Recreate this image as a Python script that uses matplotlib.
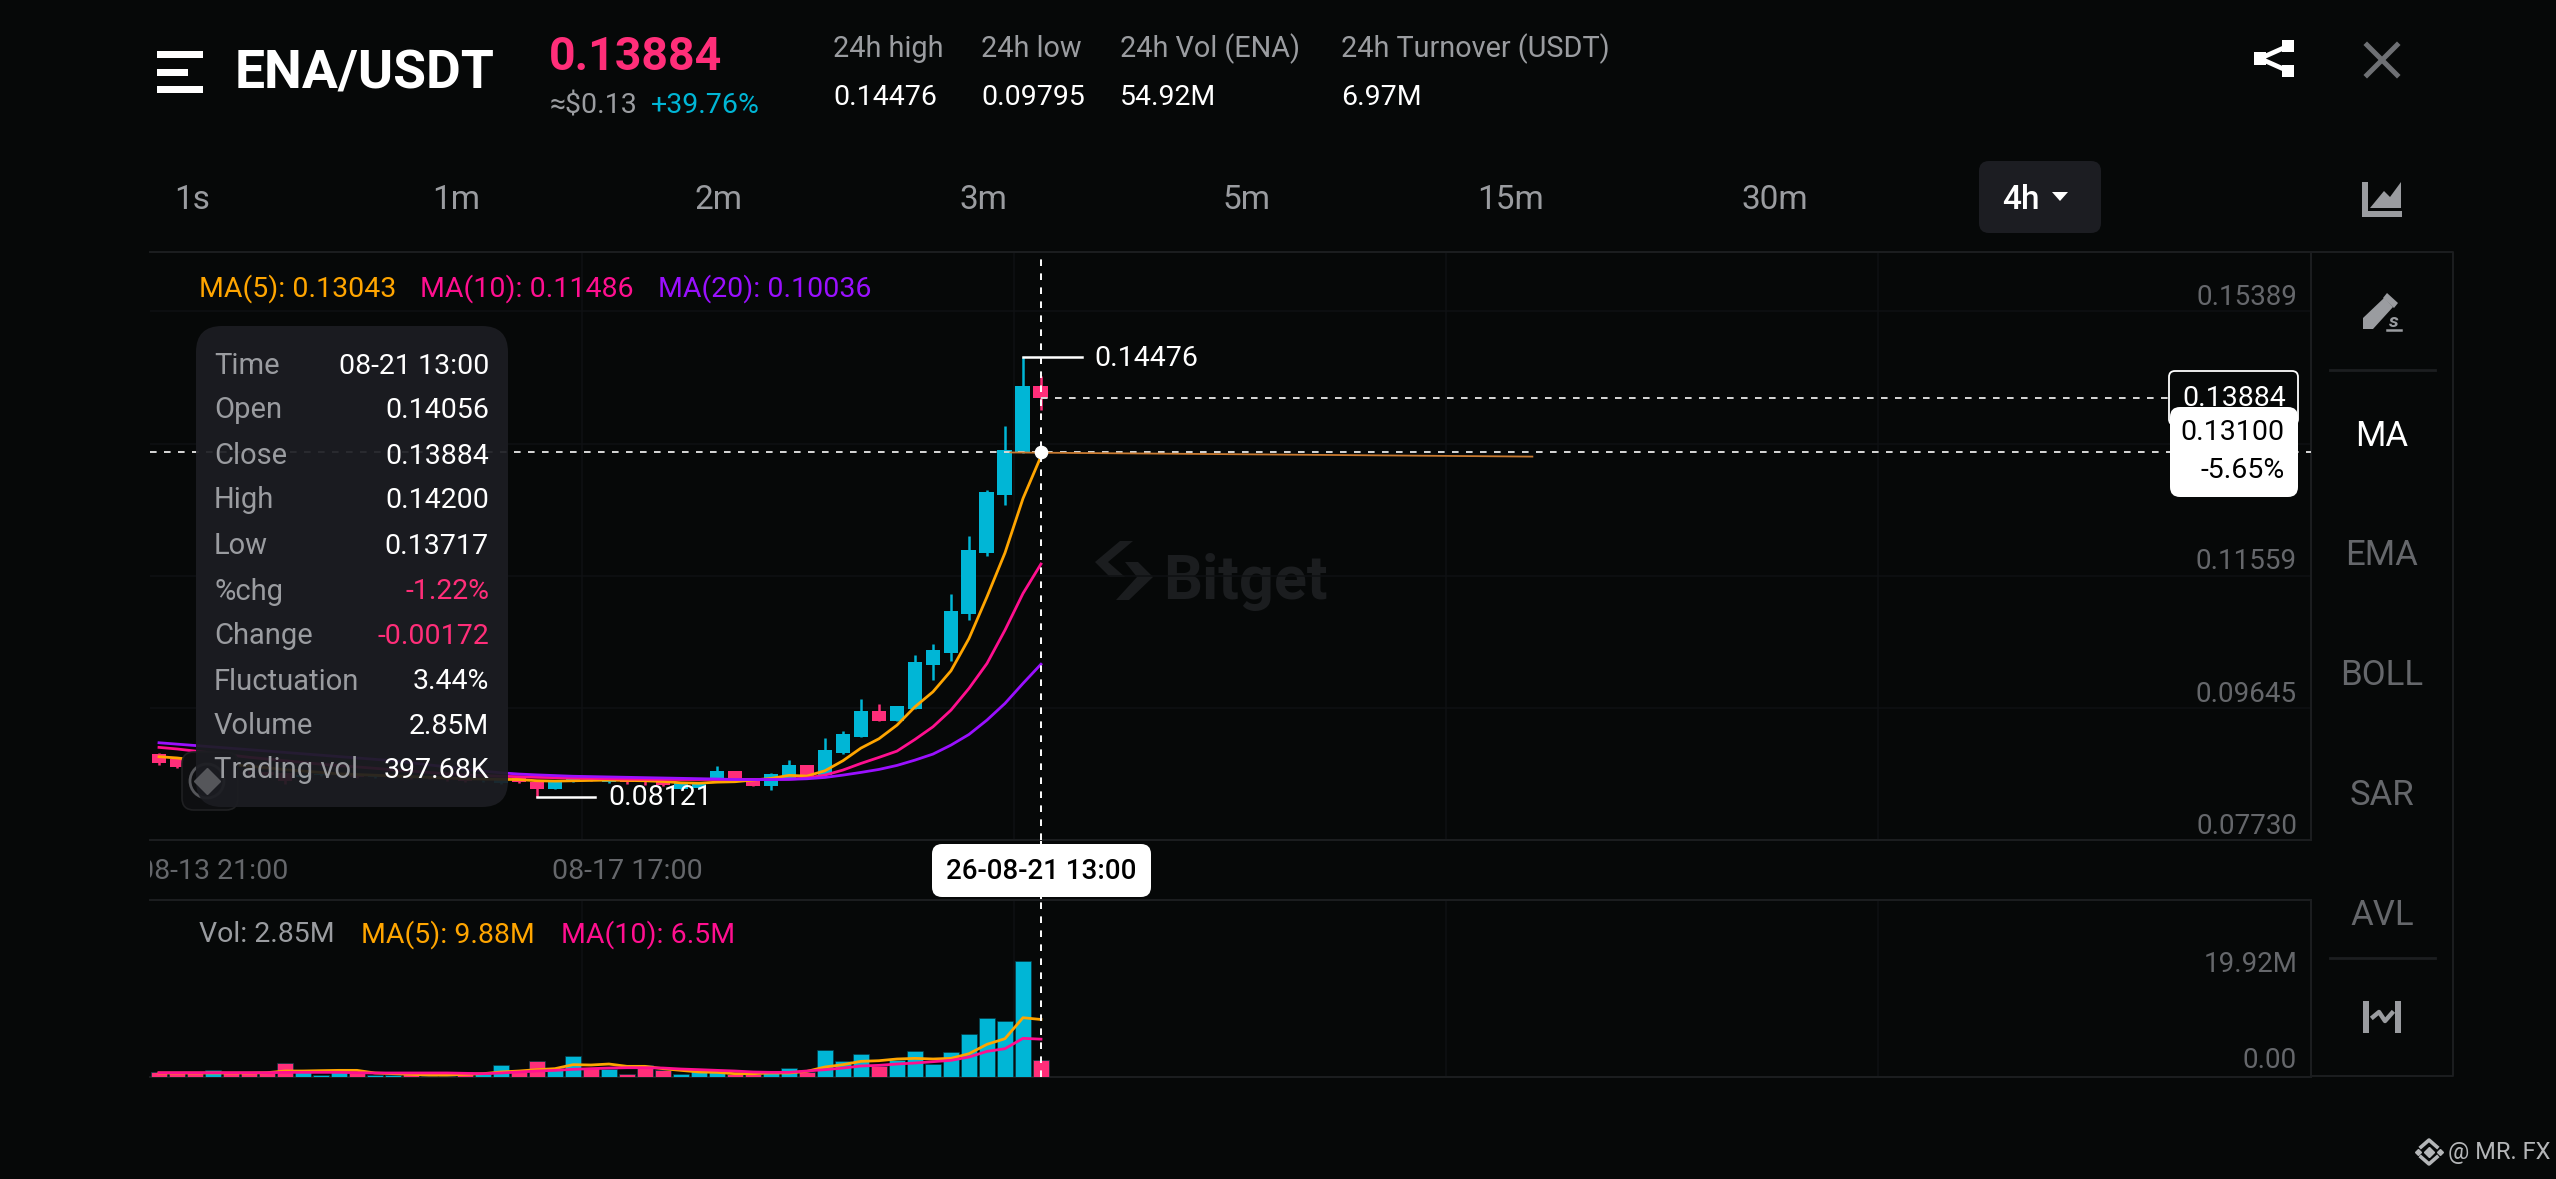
import numpy as np
import matplotlib
matplotlib.use('Agg')
import matplotlib.pyplot as plt
from matplotlib.patches import FancyBboxPatch, Polygon, Rectangle

plt.rcParams['font.family'] = ['Roboto', 'DejaVu Sans']

W, H = 2556, 1179

BG = '#060808'
CYAN = '#00b6d6'
RED = '#ff2e79'
ORANGE = '#ffa500'
PINK = '#ff0f8f'
PURPLE = '#9a10ff'
LINE = '#1c1e20'
GRID = '#0f1113'
GREY = '#9a9ca0'
DIM = '#65676b'

# candles, oldest first
opens = [.08737, .08664, .08560, .08470, .08490, .08480, .08470, .08460, .08400, .08430,
         .08430, .08440, .08400, .08420, .08415, .08395, .08385, .08370, .08340, .08320,
         .08385, .08337, .08226, .08337, .08395, .08330, .08360, .08350, .08340, .08226,
         .08240, .08384, .08495, .08384, .08278, .08384, .08577, .08432, .08746, .08982,
         .09358, .09208, .09387, .10023, .10201, .10760, .11652, .12491, .13093, .14056]
closes = [.08602, .08549, .08500, .08500, .08440, .08470, .08440, .08350, .08430, .08445,
          .08445, .08400, .08420, .08430, .08395, .08385, .08370, .08340, .08350, .08360,
          .08337, .08226, .08337, .08385, .08370, .08360, .08330, .08330, .08290, .08312,
          .08312, .08495, .08384, .08278, .08442, .08577, .08408, .08789, .09020, .09358,
          .09208, .09430, .10066, .10245, .10799, .11695, .12529, .13132, .14056, .13884]
highs = [.08750, .08680, .08570, .08520, .08495, .08490, .08475, .08465, .08440, .08450,
         .08450, .08445, .08425, .08435, .08420, .08400, .08390, .08375, .08360, .08365,
         .08390, .08337, .08340, .08410, .08400, .08365, .08365, .08355, .08345, .08320,
         .08320, .08560, .08495, .08384, .08456, .08649, .08577, .08963, .09064, .09531,
         .09464, .09430, .10172, .10327, .11054, .11893, .12553, .13479, .14476, .14200]
lows = [.08580, .08530, .08490, .08450, .08420, .08450, .08420, .08300, .08390, .08420,
        .08420, .08390, .08395, .08415, .08380, .08370, .08350, .08330, .08330, .08310,
        .08320, .08121, .08226, .08337, .08340, .08320, .08300, .08290, .08280, .08226,
        .08230, .08384, .08384, .08278, .08216, .08384, .08408, .08432, .08736, .08982,
        .09208, .09208, .09387, .09806, .10081, .10669, .11609, .12336, .13093, .13717]

ma5 = [.08698, .08680, .08650, .08620, .08590, .08560, .08540, .08510, .08490, .08470,
       .08450, .08440, .08430, .08420, .08410, .08400, .08390, .08380, .08375, .08370,
       .08368, .08350, .08345, .08350, .08355, .08360, .08355, .08350, .08340, .08320,
       .08315, .08330, .08336, .08360, .08384, .08428, .08418, .08495, .08640, .08823,
       .08958, .09155, .09420, .09637, .09941, .10408, .11011, .11647, .12433, .13043]
ma10 = [.08833, .08810, .08780, .08750, .08720, .08690, .08665, .08640, .08615, .08590,
        .08570, .08550, .08530, .08510, .08490, .08470, .08450, .08435, .08425, .08415,
        .08409, .08400, .08395, .08390, .08385, .08380, .08375, .08372, .08370, .08368,
        .08368, .08369, .08370, .08370, .08370, .08374, .08389, .08432, .08505, .08601,
        .08688, .08779, .08948, .09131, .09372, .09686, .10047, .10529, .11059, .11486]
ma20 = [.08900, .08880, .08860, .08840, .08820, .08800, .08780, .08760, .08740, .08720,
        .08700, .08680, .08660, .08640, .08610, .08580, .08550, .08520, .08490, .08465,
        .08447, .08435, .08425, .08415, .08410, .08405, .08400, .08395, .08390, .08385,
        .08380, .08375, .08368, .08367, .08367, .08370, .08379, .08398, .08432, .08471,
        .08514, .08572, .08649, .08736, .08866, .09020, .09228, .09469, .09758, .10036]

volumes = [.80, .80, .80, 1.14, .86, .69, .80, 2.40, .80, .34,
           .80, .80, .34, .34, .46, .17, .17, .92, .46, 2.06,
           .80, 2.75, 1.60, 3.55, 1.60, 1.43, .46, 2.06, 1.26, .57,
           1.03, 1.03, .46, .46, .69, 1.60, .92, 4.69, 2.75, 4.00,
           1.83, 2.86, 4.46, 2.29, 4.35, 7.44, 10.07, 9.55, 19.92, 2.85]
vol_ma5 = [.69, .69, .69, .69, .69, .69, .74, 1.03, 1.03, 1.09,
           1.14, 1.14, .69, .57, .46, .34, .34, .46, .57, .86,
           1.03, 1.26, 1.43, 2.12, 2.06, 2.23, 1.83, 1.83, 1.43, 1.14,
           .86, .80, .57, .57, .69, .69, .97, 1.72, 2.12, 2.69,
           2.80, 3.09, 3.20, 3.09, 3.20, 4.00, 5.61, 6.58, 10.18, 9.88]
vol_ma10 = [.74, .74, .74, .74, .74, .74, .74, .80, .80, .80,
            .80, .74, .69, .69, .69, .69, .69, .63, .57, .69,
            .86, 1.03, 1.14, 1.32, 1.43, 1.54, 1.60, 1.60, 1.54, 1.37,
            1.26, 1.14, 1.03, .86, .80, .80, 1.03, 1.26, 1.54, 1.89,
            2.00, 2.23, 2.40, 2.63, 2.86, 3.43, 4.40, 4.86, 6.64, 6.50]

# the 0.13474 label sits behind the price tags, so it is not listed
price_ticks = [0.15389, 0.11559, 0.09645, 0.07730]
price_grid = [0.15142, 0.13219, 0.11310, 0.09401]
time_grid = [24.5, 48.5, 72.5, 96.5]
time_labels = {4: '08-13 21:00', 27: '08-17 17:00'}

last_price = 0.13884
cross_price = 0.13100
high_price = 0.14476
low_price = 0.08121
cross_line = ([48.3, 77.3], [0.13100, 0.13040])

header_stats = [(833, '24h high', '0.14476'), (981, '24h low', '0.09795'),
                (1120, '24h Vol (ENA)', '54.92M'), (1341, '24h Turnover (USDT)', '6.97M')]
periods = [(192, '1s'), (456, '1m'), (719, '2m'), (983, '3m'),
           (1247, '5m'), (1511, '15m'), (1775, '30m')]
side_tabs = [(434, 'MA', 'white'), (553, 'EMA', DIM), (673, 'BOLL', DIM),
             (793, 'SAR', DIM), (913, 'AVL', DIM)]
tooltip_rows = [('Time', '08-21 13:00', 'white'), ('Open', '0.14056', 'white'),
                ('Close', '0.13884', 'white'), ('High', '0.14200', 'white'),
                ('Low', '0.13717', 'white'), ('%chg', '-1.22%', RED),
                ('Change', '-0.00172', RED), ('Fluctuation', '3.44%', 'white'),
                ('Volume', '2.85M', 'white'), ('Trading vol', '397.68K', 'white')]
tooltip_y = [363.5, 407.5, 453.5, 498, 544, 589, 634, 679, 724, 768]


def px_axes(x0, y0, x1, y1, zorder):
    """axes placed by its pixel box, y counted from the top"""
    ax = fig.add_axes([x0 / W, 1 - y1 / H, (x1 - x0) / W, (y1 - y0) / H], zorder=zorder)
    ax.patch.set_alpha(0)
    return ax


def style_panel(ax):
    ax.set_xlim(0.5, 120.56)
    ax.set_xticks(time_grid, minor=True)
    ax.grid(which='minor', color=GRID, lw=1.1)
    ax.set_axisbelow(True)
    ax.tick_params(which='both', length=0)
    ax.set_xticks([])
    for side, spine in ax.spines.items():
        spine.set_color(LINE)
        spine.set_linewidth(1.4)
    ax.spines['left'].set_visible(False)


def ui_text(x, y, s, size=21, color='white', ha='left', weight='normal'):
    # the app's text sits a little lower than matplotlib's centre
    over.text(x, y + 2.5, s, fontsize=size, color=color, ha=ha, va='center', fontweight=weight)


def round_box(x0, y0, x1, y1, r, **kw):
    box = FancyBboxPatch((x0 + r, y0 + r), x1 - x0 - 2 * r, y1 - y0 - 2 * r,
                         boxstyle='round,pad=%f,rounding_size=%f' % (r, r), **kw)
    over.add_patch(box)


fig = plt.figure(figsize=(W / 100, H / 100), dpi=100, facecolor=BG)

under = px_axes(0, 0, W, H, 0)
under.set_xlim(0, W)
under.set_ylim(H, 0)
under.axis('off')
over = px_axes(0, 0, W, H, 5)
over.set_xlim(0, W)
over.set_ylim(H, 0)
over.axis('off')

idx = np.arange(1, len(opens) + 1)
opens, closes, highs, lows = map(np.array, (opens, closes, highs, lows))
colors = [CYAN if c >= o else RED for o, c in zip(opens, closes)]

# price panel
ax = px_axes(150, 252, 2311, 840, 2)
style_panel(ax)
ax.set_ylim(0.07493, 0.16)
ax.yaxis.tick_right()
ax.set_yticks(price_grid, minor=True)
ax.set_yticks(price_ticks, ['%.5f' % t for t in price_ticks])
ax.tick_params(axis='y', which='major', labelsize=20, labelcolor=DIM, pad=-10)
for lab in ax.get_yticklabels():
    lab.set_ha('right')

ax.vlines(idx, lows, highs, colors=colors, lw=1.8, zorder=3)
ax.bar(idx, np.abs(closes - opens), bottom=np.minimum(opens, closes), width=0.83,
       color=colors, zorder=3)
ax.plot(idx, ma5, color=ORANGE, lw=2, zorder=4)
ax.plot(idx, ma10, color=PINK, lw=2, zorder=4)
ax.plot(idx, ma20, color=PURPLE, lw=2, zorder=4)

dash = (0, (3.4, 3.8))
ax.axhline(cross_price, color='#d8d8d8', lw=1.4, ls=dash, zorder=5)
ax.plot([idx[-1], 120], [last_price, last_price], color='#d8d8d8', lw=1.4, ls=dash, zorder=5)
ax.axvline(idx[-1], color='white', lw=1.4, ls=dash, zorder=5)
ax.plot(cross_line[0], cross_line[1], color='#c87a30', lw=1.3, zorder=5)
ax.plot([idx[-1]], [cross_price], 'o', color='white', ms=8.8, zorder=6)

# high / low markers
ax.plot([idx[-2], idx[-2] + 3.3], [high_price, high_price], color='white', lw=1.8, zorder=6)
ax.annotate('0.14476', (idx[-2] + 3.3, high_price), xytext=(9, -1), textcoords='offset points',
            color='white', fontsize=20.5, va='center')
low_i = idx[np.argmin(lows)]
ax.plot([low_i, low_i + 3.2], [low_price, low_price], color='white', lw=1.8, zorder=6)
ax.annotate('0.08121', (low_i + 3.2, low_price), xytext=(10, -1), textcoords='offset points',
            color='white', fontsize=20.5, va='center')

# time strip
ax_t = px_axes(150, 840, 2311, 900, 1)
ax_t.set_xlim(0.5, 120.56)
ax_t.set_ylim(0, 1)
ax_t.axis('off')
for i, lab in time_labels.items():
    ax_t.text(i, 0.47, lab, color=DIM, fontsize=20.5, ha='center', va='center', clip_on=True)
ax_t.axvline(idx[-1], color='white', lw=1.4, ls=dash)

# volume panel
av = px_axes(150, 900, 2311, 1077, 2)
style_panel(av)
av.set_ylim(0, 30.4)
av.yaxis.tick_right()
av.set_yticks([19.92], ['19.92M'])
av.tick_params(axis='y', labelsize=20, labelcolor=DIM, pad=-10)
for lab in av.get_yticklabels():
    lab.set_ha('right')
av.annotate('0.00', (1, 0), xycoords=('axes fraction', 'data'), xytext=(-10, 12),
            textcoords='offset points', color=DIM, fontsize=20, ha='right', va='center')
av.bar(idx, volumes, width=0.92, color=colors, edgecolor='#063a44', lw=0.5, zorder=3)
av.plot(idx, vol_ma5, color=ORANGE, lw=2, zorder=4)
av.plot(idx, vol_ma10, color=PINK, lw=2, zorder=4)
av.axvline(idx[-1], color='white', lw=1.4, ls=dash, zorder=5)

# side column frame
over.plot([2311, 2453, 2453, 2311], [252, 252, 1076, 1076], color=LINE, lw=1.4)
over.plot([2330, 2435], [370, 370], color=LINE, lw=2)
over.plot([2330, 2435], [958, 958], color=LINE, lw=2)

# header
for y in (51, 86):
    over.add_patch(Rectangle((157, y), 46, 7, color='white', lw=0))
over.add_patch(Rectangle((157, 68.5), 31, 7, color='white', lw=0))
ui_text(235, 71, 'ENA/USDT', size=38.5, weight='bold')
ui_text(549, 55, '0.13884', size=33.5, color=RED, weight='bold')
ui_text(550, 103, '≈$0.13', size=20.5, color=GREY)
ui_text(651, 103, '+39.76%', size=20.5, color=CYAN)
for x, lab, val in header_stats:
    ui_text(x, 46.5, lab, size=20.8, color=GREY)
    ui_text(x, 95, val, size=20.5)

# share and close icons
over.plot([2288, 2260, 2288], [46, 58.5, 71], color='white', lw=3.4)
over.add_patch(Rectangle((2254, 52), 12, 13, color='white', lw=0))
over.add_patch(Rectangle((2282, 40), 12, 12, color='white', lw=0))
over.add_patch(Rectangle((2282, 65), 12, 12, color='white', lw=0))
over.plot([2367, 2397], [45, 75], color='#6e7074', lw=3.6)
over.plot([2367, 2397], [75, 45], color='#6e7074', lw=3.6)

# period row
for x, lab in periods:
    ui_text(x, 197.5, lab, size=24, color=GREY, ha='center')
round_box(1979, 161, 2101, 233, 10, facecolor='#1c1d22', edgecolor='none')
ui_text(2021, 197.5, '4h', size=24, ha='center', weight='medium')
over.add_patch(Polygon([(2052, 192), (2068, 192), (2060, 201)], color='white', lw=0))

# chart type icon
over.add_patch(Polygon([(2362, 182), (2368, 182), (2368, 211), (2402, 211), (2402, 217), (2362, 217)],
                       color=GREY, lw=0))
over.add_patch(Polygon([(2370, 208), (2384, 191), (2390, 197), (2401, 182), (2401, 208)],
                       color=GREY, lw=0))

# pencil icon
over.add_patch(Polygon([(2363, 329), (2363, 318), (2384, 298), (2393, 307), (2373, 329)], color=GREY, lw=0))
over.add_patch(Polygon([(2387, 293), (2398, 303), (2394, 308), (2383, 298)], color=GREY, lw=0))
over.text(2394, 322, 's', color=GREY, fontsize=14, ha='center', va='center', fontweight='bold', style='italic')
over.plot([2387, 2401], [330, 330], color=GREY, lw=1.8)

for y, lab, c in side_tabs:
    ui_text(2382, y, lab, size=25, color=c, ha='center')

# bottom tool icon
over.add_patch(Rectangle((2363, 1001), 6, 32, color=GREY, lw=0))
over.add_patch(Rectangle((2395, 1001), 6, 32, color=GREY, lw=0))
over.plot([2373, 2379, 2385, 2392], [1017, 1012, 1021, 1013], color=GREY, lw=3.2)

# legends
ui_text(199, 286.5, 'MA(5): 0.13043', size=20.5, color=ORANGE)
ui_text(420, 286.5, 'MA(10): 0.11486', size=20.5, color=PINK)
ui_text(658, 286.5, 'MA(20): 0.10036', size=20.5, color=PURPLE)
ui_text(199, 932.5, 'Vol: 2.85M', size=20.5, color=GREY)
ui_text(361, 932.5, 'MA(5): 9.88M', size=20.5, color=ORANGE)
ui_text(561, 932.5, 'MA(10): 6.5M', size=20.5, color=PINK)

# Bitget watermark behind the candles
wm_dark = '#1b1d1f'
under.add_patch(Polygon([(1095, 562), (1120, 541), (1133, 541), (1108, 562), (1125, 577), (1110, 577)],
                        color=wm_dark, lw=0))
under.add_patch(Polygon([(1125, 562), (1138, 562), (1153, 577), (1129, 600), (1116, 600), (1137, 577)],
                        color=wm_dark, lw=0))
under.text(1163, 599, 'Bitget', color=wm_dark, fontsize=44, fontweight='bold', va='baseline')

# rotate button, mostly hidden by the tooltip
round_box(182, 752, 238, 810, 12, facecolor='#0e0f11', edgecolor='#1f2022', lw=1.2)
over.add_patch(plt.Circle((207, 781), 17, fill=False, color='#55565a', lw=2))
over.plot([207], [781], 'D', color='#55565a', ms=13)

# tooltip
round_box(196, 326, 508, 807, 26, facecolor='#1c1d22', edgecolor='none', alpha=0.93)
for y, (lab, val, c) in zip(tooltip_y, tooltip_rows):
    ui_text(214, y, lab, size=21, color=GREY)
    ui_text(489, y, val, size=20.5, color=c, ha='right')

# price tags
round_box(2169, 371, 2298, 425, 6, facecolor=BG, edgecolor='white', lw=1.3)
ui_text(2234, 396, '0.13884', size=20.5, ha='center')
round_box(2170, 407, 2298, 497, 10, facecolor='white', edgecolor='none')
ui_text(2285, 430, '0.13100', size=20.5, color='black', ha='right')
ui_text(2285, 468, '-5.65%', size=20.5, color='black', ha='right')

# date tag
round_box(932, 844, 1151, 897, 10, facecolor='white', edgecolor='none')
ui_text(1041, 869, '26-08-21 13:00', size=20, color='black', ha='center', weight='medium')

# credit
wm = '#b4b6b8'
over.plot([2429], [1152], 'D', color=wm, ms=5)
over.plot([2418, 2440], [1152, 1152], 'D', color=wm, ms=3, ls='none')
over.plot([2421, 2429, 2437], [1147, 1140, 1147], color=wm, lw=2.6)
over.plot([2421, 2429, 2437], [1157, 1164, 1157], color=wm, lw=2.6)
ui_text(2448, 1150, '@ MR. FX', size=17, color=wm)

fig.savefig('out.png', dpi=100, facecolor=BG)
